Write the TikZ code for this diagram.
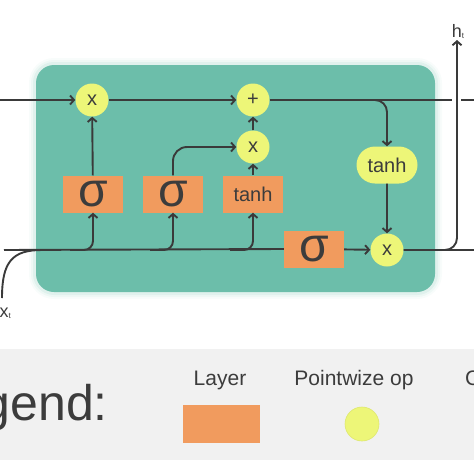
\documentclass[tikz,border=0pt]{standalone}
\usepackage{fontspec}
\setmainfont{Liberation Sans}
\usetikzlibrary{arrows.meta,shapes.misc}
\definecolor{tealbox}{RGB}{108,190,170}
\definecolor{orng}{RGB}{241,155,94}
\definecolor{ylw}{RGB}{237,246,120}
\definecolor{ylwb}{RGB}{222,232,110}
\definecolor{lc}{RGB}{58,58,58}
\definecolor{lgray}{RGB}{241,241,241}
\definecolor{txt}{RGB}{60,60,60}
\begin{document}
\begin{tikzpicture}[x=1pt,y=-1pt,
  line/.style={draw=lc, line width=1.9pt},
  arr/.style={line, -{Straight Barb[length=4pt,width=9pt,line width=1.9pt]}},
  layer/.style={fill=orng, minimum width=60pt, minimum height=37pt, inner sep=0pt, text=txt},
  sig/.style={layer, font=\fontsize{48}{48}\selectfont},
  lyrtxt/.style={layer, font=\fontsize{20}{20}\selectfont},
  op/.style={circle, fill=ylw, minimum size=33pt, inner sep=0pt, text=txt, font=\fontsize{20}{20}\selectfont},
  lbl/.style={text=txt, inner sep=0pt, font=\fontsize{21}{21}\selectfont},
]
\useasboundingbox (0,0) rectangle (474,474);
\clip (0,0) rectangle (474,474);
% legend background
\fill[lgray] (-2,349) rectangle (476,460);
% teal cell with soft glow
\foreach \w/\o in {14/0.08,10/0.12,6/0.2}
  \draw[tealbox!60, line width=\w pt, opacity=\o, rounded corners=18pt] (36,65) rectangle (435,292);
\fill[tealbox, rounded corners=18pt] (36,65) rectangle (435,292);

% nodes
\node[op] (m1) at (92,100) {x};
\node[op] (add) at (253,100) {+};
\node[op] (m2) at (253,147) {x};
\node[op] (m3) at (387,250) {x};
\node[sig] (s1) at (93,194) {σ};
\node[sig] (s2) at (173,194) {σ};
\node[lyrtxt] (tn) at (253,194) {tanh};
\node[sig] (s3) at (314,249) {σ};
\node[rounded rectangle, fill=ylw, minimum width=61pt, minimum height=37pt, inner sep=0pt, text=txt, font=\fontsize{20}{20}\selectfont] (t2) at (387,165) {tanh};

% free ends
\coordinate (cin) at (-2,100);
\coordinate (gapL) at (452,100);
\coordinate (gapR) at (461,100);
\coordinate (cout) at (476,100);
\coordinate (br) at (368,100);
\coordinate (hin) at (4,250);
\coordinate (xin) at (2,298);
\coordinate (xj) at (42,250);
\coordinate (b1) at (70,250);
\coordinate (b2) at (150,250);
\coordinate (b3) at (230,250);
\coordinate (hout) at (476,250);
\coordinate (htop) at (457,40);

% connectors
\draw[arr] (cin) -- (m1);
\draw[arr] (m1) -- (add);
\draw[line] (add) -- (gapL);
\draw[line] (gapR) -- (cout);
\draw[arr, rounded corners=12pt] (br) -| (t2.north);
\draw[arr] (t2) -- (m3);
\draw[arr, rounded corners=12pt] (m3.east) -| (htop);
\draw[line] (m3.east) -- (hout);

\draw[line] (hin) -- (s3.west);
\draw[line] (xin) .. controls (2,262) and (12,250) .. (xj);
\draw[arr] (s3) -- (m3);
\draw[arr, rounded corners=9pt] (b1) -| (s1.south);
\draw[arr, rounded corners=9pt] (b2) -| (s2.south);
\draw[arr, rounded corners=9pt] (b3) -| (tn.south);
\draw[arr] (s1) -- (m1);
\draw[arr, rounded corners=14pt] (s2.north) |- (m2.west);
\draw[arr] (tn) -- (m2);
\draw[arr] (m2) -- (add);

% labels
\node[text=txt, inner sep=0pt, font=\fontsize{18}{18}\selectfont, anchor=base] (hl) at (458,37) {h\raisebox{-1pt}{\fontsize{8}{8}\selectfont t}};
\node[text=txt, inner sep=0pt, font=\fontsize{18}{18}\selectfont, anchor=base east] (xl) at (11,317) {x\raisebox{-1pt}{\fontsize{8}{8}\selectfont t}};

% legend
\node[text=txt, inner sep=0pt, font=\fontsize{50}{50}\selectfont, anchor=base east] (leg) at (108,420) {Legend:};
\node[lbl, anchor=base] (ly) at (220,385) {Layer};
\node[lbl, anchor=base] (pw) at (354,385) {Pointwize op};
\node[lbl, anchor=base west] (cp) at (465,385) {Copy};
\node[fill=orng, minimum width=77pt, minimum height=38pt, inner sep=0pt] (legl) at (221.5,424) {};
\node[circle, fill=ylw, draw=ylwb, line width=0.6pt, minimum size=34pt, inner sep=0pt] (lego) at (362,424) {};
\end{tikzpicture}
\end{document}
